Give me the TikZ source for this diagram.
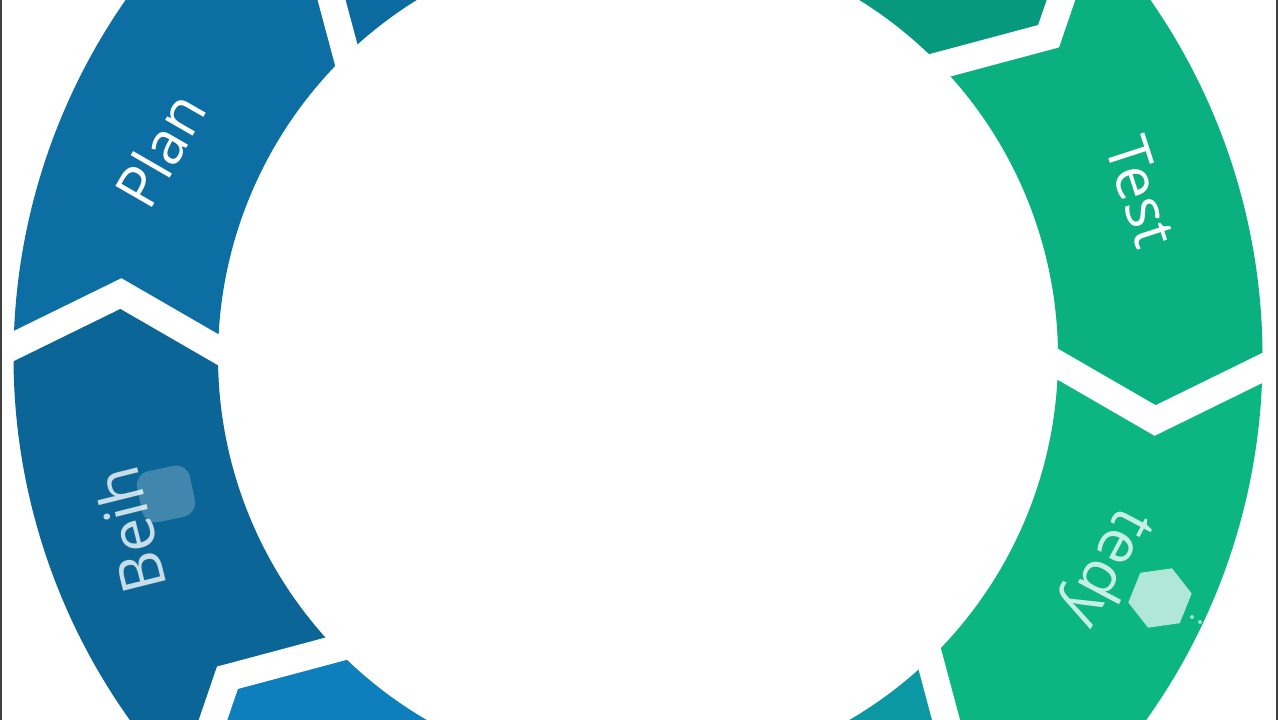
\documentclass[tikz,border=0pt]{standalone}
\usepackage{fontspec}
\setmainfont{Open Sans}
\usetikzlibrary{shapes.geometric}
\definecolor{cTest}{HTML}{0AB07F}
\definecolor{cTopR}{HTML}{07997D}
\definecolor{cTopL}{HTML}{0B6BA1}
\definecolor{cPlan}{HTML}{0C6EA2}
\definecolor{cBuild}{HTML}{0B6596}
\definecolor{cBotL}{HTML}{0C7FBC}
\definecolor{cBotR}{HTML}{0C97A4}
\definecolor{cDeploy}{HTML}{0BB680}
\newcommand{\Ri}{4.20}
\newcommand{\Ro}{6.245}
\newcommand{\Rm}{5.21}
\newcommand{\dlt}{6}
% segment from angle #1 (clockwise end, pointed) to #1+45 (notched end)
\newcommand{\ringseg}[2]{%
  \pgfmathsetmacro{\ta}{#1}%
  \pgfmathsetmacro{\tb}{#1+45}%
  \pgfmathsetmacro{\tap}{#1-\dlt}%
  \pgfmathsetmacro{\tbp}{#1+45-\dlt}%
  \fill[#2] (\tb:\Ro) arc[start angle=\tb, end angle=\ta, radius=\Ro]
    -- (\tap:\Rm) -- (\ta:\Ri)
    arc[start angle=\ta, end angle=\tb, radius=\Ri]
    -- (\tbp:\Rm) -- cycle;}
\newcommand{\ringgap}[1]{%
  \pgfmathsetmacro{\tg}{#1}%
  \pgfmathsetmacro{\tgp}{#1-\dlt}%
  \draw[gapline] (\tg:\Ro) -- (\tgp:\Rm) -- (\tg:\Ri);}
\tikzset{
  gapline/.style={white, line width=0.27cm, line join=miter, miter limit=20,
    shorten <=-0.4cm, shorten >=-0.4cm},
  lbl/.style={text=white, font=\fontsize{16.8}{20}\selectfont, inner sep=0pt},
  ghost/.style={text=white, text opacity=0.78, font=\fontsize{17.4}{20}\selectfont, inner sep=0pt}
}
\begin{document}
\begin{tikzpicture}
\useasboundingbox (0,0) rectangle (12.8,-7.2);
\fill[white] (0,0) rectangle (12.8,-7.2);
\begin{scope}
\clip (0,0) rectangle (12.8,-7.2);
\begin{scope}[shift={(6.38,-3.57)}]
  \ringseg{-1}{cTest}
  \ringseg{44}{cTopR}
  \ringseg{89}{cTopL}
  \ringseg{134}{cPlan}
  \ringseg{179}{cBuild}
  \ringseg{224}{cBotL}
  \ringseg{269}{cBotR}
  \ringseg{314}{cDeploy}
  \foreach \g in {-1,44,89,134,179,224,269,314} {\ringgap{\g}}
\end{scope}
\end{scope}
% labels
\node[lbl, rotate=60] (plan) at (1.60,-1.50) {Plan};
\node[lbl, rotate=-72] (test) at (11.41,-1.92) {Test};
\node[ghost, rotate=104] (build) at (1.30,-5.30) {Beih};
\node[ghost, rotate=-118] (deploy) at (11.05,-5.67) {tedy};
% faded icons
\node[draw=none, fill=white, fill opacity=0.22, rounded corners=4pt,
  minimum width=0.54cm, minimum height=0.52cm, rotate=12] (bicon) at (1.66,-4.94) {};
\node[regular polygon, regular polygon sides=6, fill=white, fill opacity=0.68,
  minimum size=0.64cm, inner sep=0pt, rotate=8] (hex) at (11.60,-5.98) {};
\fill[white, opacity=0.6] (11.92,-6.17) circle (0.02) (12.00,-6.22) circle (0.02);
% frame lines
\draw[black!75, line width=0.5pt] (0.01,0) -- (0.01,-7.2);
\draw[black!75, line width=0.5pt] (12.77,0) -- (12.77,-7.2);
\end{tikzpicture}
\end{document}
